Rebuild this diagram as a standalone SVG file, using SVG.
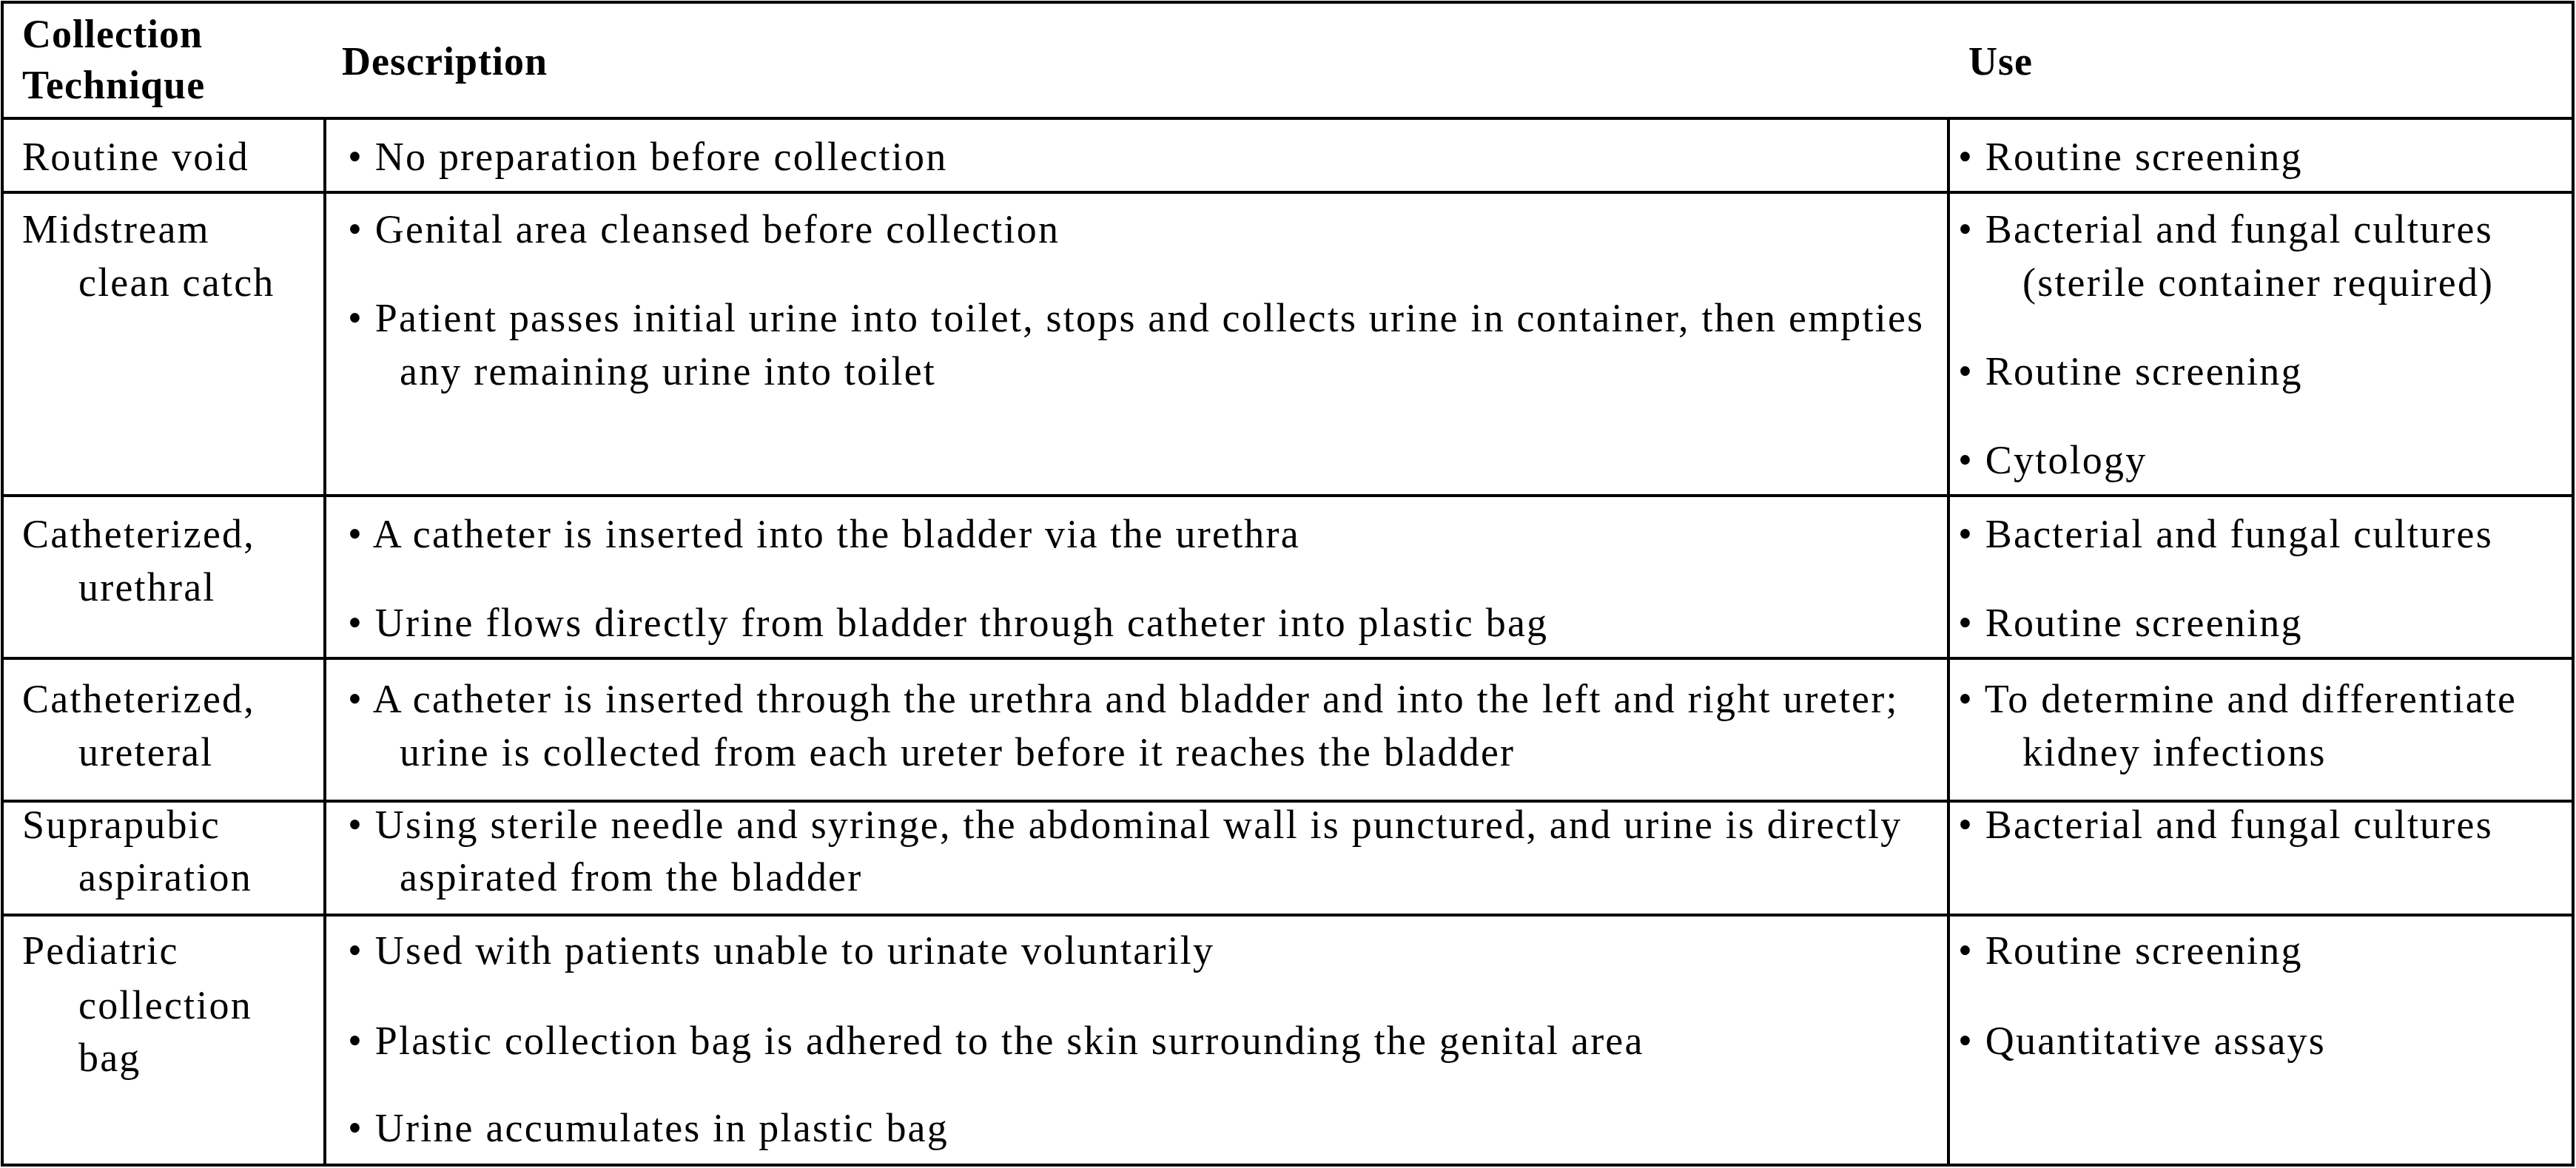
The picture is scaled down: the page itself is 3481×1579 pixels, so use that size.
<svg xmlns="http://www.w3.org/2000/svg" width="3481" height="1579" viewBox="0 0 3481 1579">
<style>
text{font-family:"Liberation Serif",serif;font-size:54px;letter-spacing:2.2px;fill:#000}
.h{font-weight:bold;letter-spacing:1px}
.l{stroke:#000;stroke-width:4;fill:none}
</style>
<rect x="0" y="0" width="3481" height="1579" fill="#fff"/>
<g id="grid">
<rect class="l" x="3" y="3" width="3474" height="1572"/>
<path class="l" d="M3 160H3477M3 260H3477M3 670H3477M3 890H3477M3 1083H3477M3 1237H3477M439 160V1576M2633 160V1576"/>
</g>
<g id="header">
<text class="h" x="30" y="64">Collection</text>
<text class="h" x="30" y="133">Technique</text>
<text class="h" x="462" y="101">Description</text>
<text class="h" x="2660" y="101">Use</text>
</g>
<g id="row1">
<text x="30" y="230">Routine void</text>
<text x="470" y="230">• No preparation before collection</text>
<text x="2646" y="230">• Routine screening</text>
</g>
<g id="row2">
<text x="30" y="328">Midstream</text>
<text x="106" y="400">clean catch</text>
<text x="470" y="328">• Genital area cleansed before collection</text>
<text x="470" y="448">• Patient passes initial urine into toilet, stops and collects urine in container, then empties</text>
<text x="540" y="520">any remaining urine into toilet</text>
<text x="2646" y="328">• Bacterial and fungal cultures</text>
<text x="2733" y="400">(sterile container required)</text>
<text x="2646" y="520">• Routine screening</text>
<text x="2646" y="640">• Cytology</text>
</g>
<g id="row3">
<text x="30" y="740">Catheterized,</text>
<text x="106" y="812">urethral</text>
<text x="470" y="740">• A catheter is inserted into the bladder via the urethra</text>
<text x="470" y="860">• Urine flows directly from bladder through catheter into plastic bag</text>
<text x="2646" y="740">• Bacterial and fungal cultures</text>
<text x="2646" y="860">• Routine screening</text>
</g>
<g id="row4">
<text x="30" y="963">Catheterized,</text>
<text x="106" y="1035">ureteral</text>
<text x="470" y="963">• A catheter is inserted through the urethra and bladder and into the left and right ureter;</text>
<text x="540" y="1035">urine is collected from each ureter before it reaches the bladder</text>
<text x="2646" y="963">• To determine and differentiate</text>
<text x="2733" y="1035">kidney infections</text>
</g>
<g id="row5">
<text x="30" y="1133">Suprapubic</text>
<text x="106" y="1204">aspiration</text>
<text x="470" y="1133">• Using sterile needle and syringe, the abdominal wall is punctured, and urine is directly</text>
<text x="540" y="1204">aspirated from the bladder</text>
<text x="2646" y="1133">• Bacterial and fungal cultures</text>
</g>
<g id="row6">
<text x="30" y="1303">Pediatric</text>
<text x="106" y="1377">collection</text>
<text x="106" y="1448">bag</text>
<text x="470" y="1303">• Used with patients unable to urinate voluntarily</text>
<text x="470" y="1425">• Plastic collection bag is adhered to the skin surrounding the genital area</text>
<text x="470" y="1543">• Urine accumulates in plastic bag</text>
<text x="2646" y="1303">• Routine screening</text>
<text x="2646" y="1425">• Quantitative assays</text>
</g>
</svg>
